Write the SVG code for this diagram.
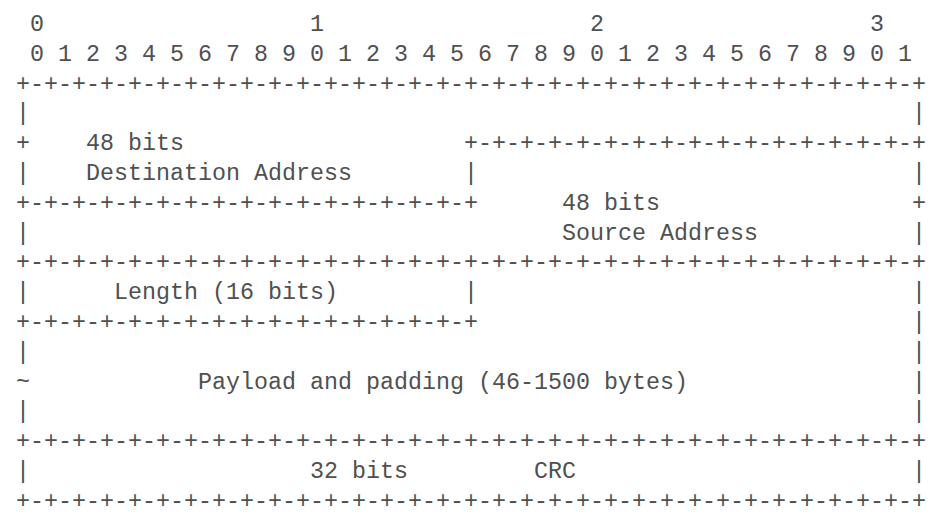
<svg xmlns="http://www.w3.org/2000/svg" width="930" height="532" viewBox="0 0 930 532">
<style>
text { font-family: "Liberation Mono", "Courier New", monospace; font-size: 23.33px; fill: #505050; white-space: pre; }
.full { }
</style>
<rect width="930" height="532" fill="#ffffff"/>
<g id="bit-ruler">
<text x="30" y="31">0</text>
<text x="310" y="31">1</text>
<text x="590" y="31">2</text>
<text x="870" y="31">3</text>
<text x="30" y="60.8" xml:space="preserve">0 1 2 3 4 5 6 7 8 9 0 1 2 3 4 5 6 7 8 9 0 1 2 3 4 5 6 7 8 9 0 1</text>
</g>
<g id="frame">
<text x="16" y="90.6" textLength="910" lengthAdjust="spacing">+-+-+-+-+-+-+-+-+-+-+-+-+-+-+-+-+-+-+-+-+-+-+-+-+-+-+-+-+-+-+-+-+</text>
<text x="16" y="120.4">|</text><text x="912" y="120.4">|</text>
<text x="16" y="150.2">+</text><text x="464" y="150.2" textLength="462" lengthAdjust="spacing">+-+-+-+-+-+-+-+-+-+-+-+-+-+-+-+-+</text>
<text x="16" y="180">|</text><text x="464" y="180">|</text><text x="912" y="180">|</text>
<text x="16" y="209.8" textLength="462" lengthAdjust="spacing">+-+-+-+-+-+-+-+-+-+-+-+-+-+-+-+-+</text><text x="912" y="209.8">+</text>
<text x="16" y="239.6">|</text><text x="912" y="239.6">|</text>
<text x="16" y="269.4" textLength="910" lengthAdjust="spacing">+-+-+-+-+-+-+-+-+-+-+-+-+-+-+-+-+-+-+-+-+-+-+-+-+-+-+-+-+-+-+-+-+</text>
<text x="16" y="299.2">|</text><text x="464" y="299.2">|</text><text x="912" y="299.2">|</text>
<text x="16" y="329" textLength="462" lengthAdjust="spacing">+-+-+-+-+-+-+-+-+-+-+-+-+-+-+-+-+</text><text x="912" y="329">|</text>
<text x="16" y="358.8">|</text><text x="912" y="358.8">|</text>
<text x="16" y="388.6">~</text><text x="912" y="388.6">|</text>
<text x="16" y="418.4">|</text><text x="912" y="418.4">|</text>
<text x="16" y="448.2" textLength="910" lengthAdjust="spacing">+-+-+-+-+-+-+-+-+-+-+-+-+-+-+-+-+-+-+-+-+-+-+-+-+-+-+-+-+-+-+-+-+</text>
<text x="16" y="478">|</text><text x="912" y="478">|</text>
<text x="16" y="507.8" textLength="910" lengthAdjust="spacing">+-+-+-+-+-+-+-+-+-+-+-+-+-+-+-+-+-+-+-+-+-+-+-+-+-+-+-+-+-+-+-+-+</text>
</g>
<g id="field-destination">
<text x="86" y="150.2">48 bits</text>
<text x="86" y="180">Destination Address</text>
</g>
<g id="field-source">
<text x="562" y="209.8">48 bits</text>
<text x="562" y="239.6">Source Address</text>
</g>
<g id="field-length">
<text x="114" y="299.2">Length (16 bits)</text>
</g>
<g id="field-payload">
<text x="198" y="388.6">Payload and padding (46-1500 bytes)</text>
</g>
<g id="field-crc">
<text x="310" y="478">32 bits</text>
<text x="534" y="478">CRC</text>
</g>
</svg>
